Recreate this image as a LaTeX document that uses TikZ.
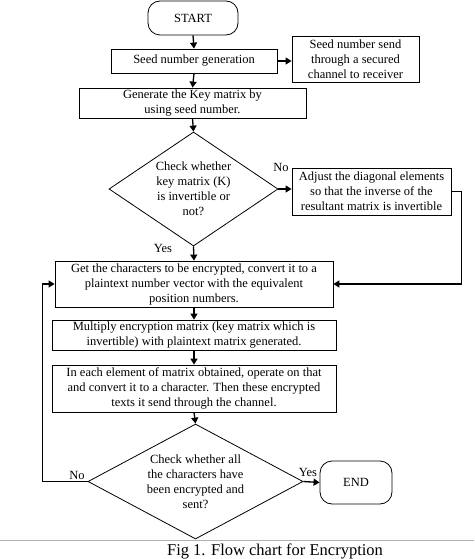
\documentclass[tikz,border=0pt]{standalone}
\usepackage{fontspec}
\setmainfont{Liberation Serif}
\usetikzlibrary{shapes.geometric,arrows.meta}
\begin{document}
\begin{tikzpicture}[x=1pt,y=-1pt,
  txt/.style={font=\fontsize{12.5}{15}\selectfont},
  box/.style={draw,line width=0.8pt,align=center,inner sep=0pt,txt},
  term/.style={box,rounded corners=12pt},
  dec/.style={draw,diamond,line width=0.8pt,align=center,inner sep=-12pt,txt},
  arr/.style={line width=1.3pt,-{Triangle[length=6pt,width=7pt]}},
  lab/.style={inner sep=0pt,txt}]
\useasboundingbox (0,0) rectangle (474,559);
\node[term,minimum width=90pt,minimum height=34pt] (start) at (193,18) {START};
\node[box,minimum width=166pt,minimum height=24pt] (seed) at (194,61) {Seed number generation};
\node[box,minimum width=127pt,minimum height=46pt] (send) at (355.5,59) {Seed number send\\through a secured\\channel to receiver};
\node[box,minimum width=227pt,minimum height=30pt] (gen) at (192.5,103) {Generate the Key matrix by\\using seed number.};
\node[dec,minimum width=169pt,minimum height=114pt] (d1) at (193.5,189) {Check whether\\key matrix (K)\\is invertible or\\not?};
\node[box,minimum width=159pt,minimum height=47pt] (adj) at (371.5,191.5) {Adjust the diagonal elements\\so that the inverse of the\\resultant matrix is invertible};
\node[box,minimum width=278pt,minimum height=46pt] (get) at (194,284) {Get the characters to be encrypted, convert it to a\\plaintext number vector with the equivalent\\position numbers.};
\node[box,minimum width=284pt,minimum height=30pt] (mul) at (194,335) {Multiply encryption matrix (key matrix which is\\invertible) with plaintext matrix generated.};
\node[box,minimum width=284pt,minimum height=47pt] (each) at (194,388.5) {In each element of matrix obtained, operate on that\\and convert it to a character. Then these encrypted\\texts it send through the channel.};
\node[dec,minimum width=215pt,minimum height=115pt] (d2) at (195.5,481.5) {Check whether all\\the characters have\\been encrypted and\\sent?};
\node[term,minimum width=72pt,minimum height=43pt] (end) at (356,482.5) {END};
\node[lab] (no1) at (281,167) {No};
\node[lab] (yes1) at (163,248) {Yes};
\node[lab] (no2) at (77,475) {No};
\node[lab] (yes2) at (308,472) {Yes};
\node[inner sep=0pt,anchor=base,font=\fontsize{16.5}{18}\selectfont] (cap) at (275,555) {Fig 1. Flow chart for Encryption};
\coordinate (l0) at (0,540);
\coordinate (l1) at (474,540);
\draw[gray!60,line width=1pt] (l0) -- (l1);
\draw[arr] (start.south) -- (seed.north);
\draw[arr] (seed.east) -- (send.west |- seed.east);
\draw[arr] (seed.south) -- (gen.north);
\draw[arr] (gen.south) -- (d1.north);
\draw[arr] (d1.east) -- (adj.west |- d1.east);
\draw[arr] (d1.south) -- (get.north);
\draw[arr] (adj.east) -- ++(10,0) |- (get.east);
\draw[arr] (get.south) -- (mul.north);
\draw[arr] (mul.south) -- (each.north);
\draw[arr] (each.south) -- (d2.north);
\draw[arr] (d2.west) -- ++(-45,0) |- (get.west);
\draw[arr] (d2.east) -- (end.west);
\end{tikzpicture}
\end{document}
